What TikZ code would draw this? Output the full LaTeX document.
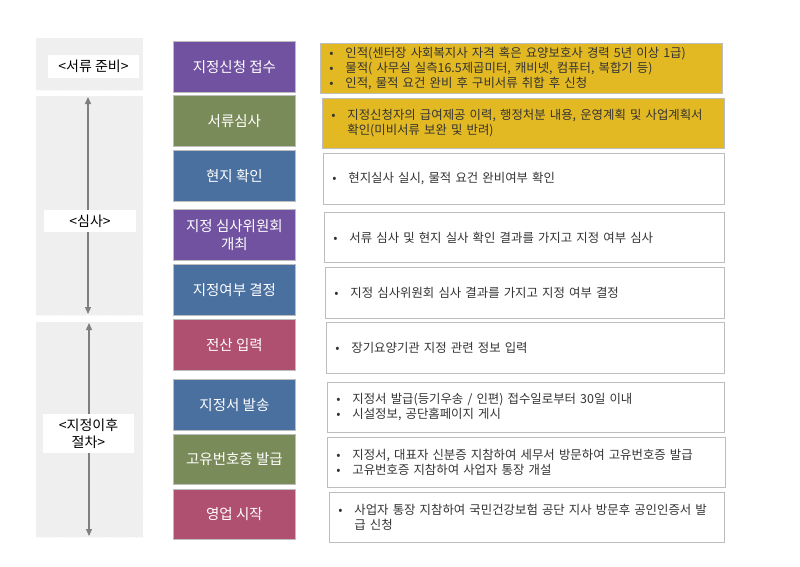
\documentclass[tikz,border=0pt]{standalone}
\usepackage{fontspec}
\setmainfont{Noto Sans CJK KR}
\usetikzlibrary{arrows.meta,patterns}
\definecolor{cpurple}{HTML}{7152A0}
\definecolor{cgreen}{HTML}{7A8B5A}
\definecolor{cblue}{HTML}{4A70A0}
\definecolor{cpink}{HTML}{B05070}
\definecolor{cgold}{HTML}{E3B923}
\definecolor{cborder}{HTML}{BDBDBD}
\definecolor{ctext}{HTML}{333333}
\definecolor{cpanel}{HTML}{EFEFEF}
\definecolor{carrow}{HTML}{7F7F7F}
\newcommand{\bl}[1]{\makebox[16pt][l]{•}#1}
\newcommand{\cl}[1]{\hspace*{16pt}#1}
\begin{document}
\begin{tikzpicture}[x=1pt,y=-1pt,
  panel/.style={fill=cpanel,draw=none},
  hatch/.style={pattern=north east lines,pattern color=black!6},
  lbl/.style={fill=white,text=black,font=\fontsize{14}{16.5}\selectfont,align=center,inner sep=0pt},
  mbox/.style={draw=cborder,line width=0.8pt,text=white,font=\fontsize{14.5}{18}\selectfont,align=center,inner sep=0pt,anchor=north west},
  rbox/.style={draw=cborder,line width=0.8pt,text=ctext,font=\fontsize{12.4}{15}\selectfont,align=left,inner xsep=9pt,inner ysep=0pt,anchor=north west},
  arr/.style={draw=carrow,line width=1.2pt,{Triangle[width=6pt,length=7pt]}-{Triangle[width=6pt,length=7pt]}}
]
\useasboundingbox (0,0) rectangle (800,566);
\fill[white] (0,0) rectangle (800,566);
% left panels
\path[panel] (36,38) rectangle (143,90);
\path[hatch] (36,38) rectangle (143,90);
\path[panel] (36,96) rectangle (143,315);
\path[hatch] (36,96) rectangle (143,315);
\path[panel] (36,322) rectangle (143,537);
\path[hatch] (36,322) rectangle (143,537);
% arrows
\coordinate (a1t) at (88,97);
\coordinate (a1b) at (88,314);
\coordinate (a2t) at (89,323);
\coordinate (a2b) at (89,536);
\draw[arr] (a1t) -- (a1b);
\draw[arr] (a2t) -- (a2b);
% labels
\node[lbl,minimum width=91pt,minimum height=23pt] (l1) at (93.5,66.5) {<서류 준비>};
\node[lbl,minimum width=92pt,minimum height=22pt] (l2) at (90,221) {<심사>};
\node[lbl,minimum width=91pt,minimum height=39pt] (l3) at (88.5,433.5) {<지정이후\\절차>};
% middle boxes
\node[mbox,fill=cpurple,minimum width=122pt,minimum height=51pt] (m1) at (173,41) {지정신청 접수};
\node[mbox,fill=cgreen,minimum width=122pt,minimum height=51pt] (m2) at (173,95) {서류심사};
\node[mbox,fill=cblue,minimum width=122pt,minimum height=51pt] (m3) at (173,150) {현지 확인};
\node[mbox,fill=cpurple,minimum width=122pt,minimum height=51pt] (m4) at (173,209) {지정 심사위원회\\개최};
\node[mbox,fill=cblue,minimum width=122pt,minimum height=51pt] (m5) at (173,264) {지정여부 결정};
\node[mbox,fill=cpink,minimum width=122pt,minimum height=51pt] (m6) at (173,319) {전산 입력};
\node[mbox,fill=cblue,minimum width=122pt,minimum height=51pt] (m7) at (173,379) {지정서 발송};
\node[mbox,fill=cgreen,minimum width=122pt,minimum height=50pt] (m8) at (173,434) {고유번호증 발급};
\node[mbox,fill=cpink,minimum width=122pt,minimum height=50pt] (m9) at (173,489) {영업 시작};
% right boxes
\node[rbox,fill=cgold,text width=384pt,minimum height=50pt] (r1) at (320,43)
 {\bl{인적(센터장 사회복지사 자격 혹은 요양보호사 경력 5년 이상 1급)}\\
  \bl{물적( 사무실 실측16.5제곱미터, 캐비넷, 컴퓨터, 복합기 등)}\\
  \bl{인적, 물적 요건 완비 후 구비서류 취합 후 신청}};
\node[rbox,fill=cgold,text width=384pt,minimum height=50pt] (r2) at (322,98)
 {\bl{지정신청자의 급여제공 이력, 행정처분 내용, 운영계획 및 사업계획서}\\
  \cl{확인(미비서류 보완 및 반려)}};
\node[rbox,fill=white,text width=383pt,minimum height=51pt] (r3) at (323,153)
 {\bl{현지실사 실시, 물적 요건 완비여부 확인}};
\node[rbox,fill=white,text width=382pt,minimum height=50pt] (r4) at (324,212)
 {\bl{서류 심사 및 현지 실사 확인 결과를 가지고 지정 여부 심사}};
\node[rbox,fill=white,text width=381pt,minimum height=51pt] (r5) at (325,267)
 {\bl{지정 심사위원회 심사 결과를 가지고 지정 여부 결정}};
\node[rbox,fill=white,text width=380pt,minimum height=51pt] (r6) at (326,322)
 {\bl{장기요양기관 지정 관련 정보 입력}};
\node[rbox,fill=white,text width=379pt,minimum height=50pt] (r7) at (327,382)
 {\bl{지정서 발급(등기우송 / 인편) 접수일로부터 30일 이내}\\
  \bl{시설정보, 공단홈페이지 게시}};
\node[rbox,fill=white,text width=380pt,minimum height=50pt] (r8) at (327,437)
 {\bl{지정서, 대표자 신분증 지참하여 세무서 방문하여 고유번호증 발급}\\
  \bl{고유번호증 지참하여 사업자 통장 개설}};
\node[rbox,fill=white,text width=377pt,minimum height=50pt] (r9) at (329,492)
 {\bl{사업자 통장 지참하여 국민건강보험 공단 지사 방문후 공인인증서 발}\\
  \cl{급 신청}};
\end{tikzpicture}
\end{document}
